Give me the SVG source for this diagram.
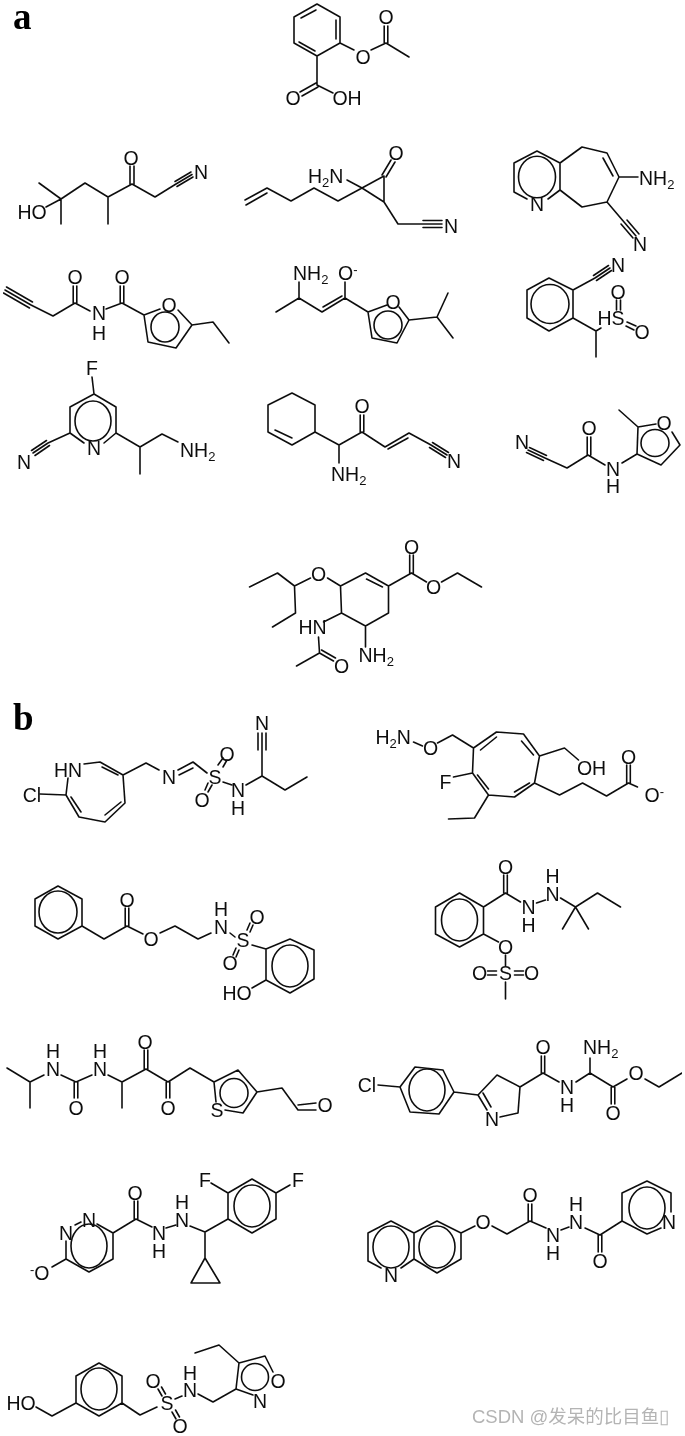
<svg xmlns="http://www.w3.org/2000/svg" width="685" height="1436" viewBox="0 0 685 1436">
<defs><filter id="soft" x="0" y="0" width="100%" height="100%"><feGaussianBlur stdDeviation="0.35"/></filter></defs>
<style>
.b{fill:none;stroke:#111;stroke-width:1.6;stroke-linecap:round;stroke-linejoin:round}
text{font-family:"Liberation Sans",Arial,sans-serif;font-size:19.5px;fill:#111;text-anchor:middle}
.st{text-anchor:start}
.lab{font-family:"Liberation Serif","Times New Roman",serif;font-size:37px;font-weight:bold;fill:#000;text-anchor:start}
.wm{font-family:"Liberation Sans","Noto Sans CJK SC",sans-serif;font-size:18.5px;fill:#b4b4b4;text-anchor:start}
.s{font-size:13px}
</style>
<rect width="685" height="1436" fill="#fff"/>
<g filter="url(#soft)">
<text class="lab" x="13" y="29">a</text>
<text class="lab" x="13" y="730">b</text>

<g id="a1">
<path class="b" d="M317 4L340 17V43L317 56L294 43V17ZM301 18L316 10M336 20V39M299 42L315 51M340 43L354 50M371 50L386 43L409 57M384.2 43V26M387.8 43V26M317 56V85M316 83L300 92M318 87L302 96M317 85L333 93"/>
<text x="363" y="64">O</text><text x="386" y="24">O</text><text x="293" y="105">O</text><text x="347" y="105">OH</text>
</g>
<g id="a2">
<path class="b" d="M46 207L61 199M39 183L61 199V224M61 199L85 183L108 197V224M108 197L132 184L155 197L176 184M176 184L192 174.500M175 181.500L191 172M177 186.500L193 177M130 184V166M134 184V166"/>
<text x="32" y="219">HO</text><text x="131" y="165">O</text><text x="201" y="179">N</text>
</g>
<g id="a3" transform="translate(-2 0)">
<path class="b" d="M247 200L269 188M248 205L269 193M269 188L293 201L316 188L340 201L364 188M364 188L386 176V202ZM349 180L364 188M384 175L393 160M388 177L397 162M386 202L400 224H425M425 224H444M425 220.500H444M425 227.500H444"/>
<text class="st" x="310" y="183">H<tspan class="s" dy="4">2</tspan><tspan dy="-4">N</tspan></text><text x="398" y="160">O</text><text x="453" y="233">N</text>
</g>
<g id="a4" transform="translate(-4 0)">
<path class="b" d="M564 190L552 199M531 199L518 192V163L541 151L564 163V190M564 163L586 147L611 153L623 177L611 202L586 207L564 190M607 158L617 176M623 177H642M611 202L628 222M628 222L640 236M631 220L643 234M625 224L637 238"/>
<ellipse class="b" cx="541" cy="177" rx="18.500" ry="20.800"/>
<text x="541" y="211">N</text><text class="st" x="643" y="185">NH<tspan class="s" dy="4">2</tspan></text><text x="644" y="251">N</text>
</g>
<g id="a5">
<path class="b" d="M5 290L31 305M6.500 287L32.500 302M3.500 293L29.500 308M31 305L53 316L75 303L90 311M106 309L122 303L144 315L148 342L176 348L192 325L213 322L229 343M144 315L160 309M178 310L192 325M73.200 303V286M76.800 303V286M120.200 303V286M123.800 303V286"/>
<ellipse class="b" cx="165" cy="327" rx="14" ry="15"/>
<text x="75" y="284">O</text><text x="122" y="284">O</text><text x="99" y="320">N</text><text x="99" y="340">H</text><text x="169" y="312">O</text>
</g>
<g id="a6">
<path class="b" d="M299 282V298M276 312L299 298L322 312L345 298M323 307L342 296M345 298V282M345 298L368 312L372 338L397 343L409 320L437 317M368 312L387 305M399 307L409 320M437 317L448 293M437 317L453 338"/>
<ellipse class="b" cx="388" cy="325" rx="14" ry="14"/>
<text class="st" x="293" y="280">NH<tspan class="s" dy="4">2</tspan></text><text class="st" x="338" y="280">O<tspan class="s" dy="-6">-</tspan></text><text x="393" y="309">O</text>
</g>
<g id="a7">
<path class="b" d="M549 278L573 290V318L549 331L527 318V290ZM573 290L595 278M595 278L610 268M593.500 275.500L608.500 265.500M596.500 280.500L611.500 270.500M573 318L596 331V357M596 331L601 328M616.500 310V300M620.500 310V300M627 322L636 326M626 326L634 330"/>
<ellipse class="b" cx="550" cy="304" rx="19" ry="19.500"/>
<text x="618" y="272">N</text><text x="611" y="325">HS</text><text x="618" y="299">O</text><text x="642" y="339">O</text>
</g>
<g id="a8">
<path class="b" d="M92 377L94 394L116 407V433L104 443M84 443L70 433V407L94 394M70 433L48 443M48 443L33 453M46.500 440.500L31.500 450.500M49.500 445.500L35 455.500M116 433L140 447V474M140 447L162 434L178 442"/>
<ellipse class="b" cx="93" cy="421" rx="18" ry="20"/>
<text x="92" y="375">F</text><text x="94" y="455">N</text><text x="24" y="469">N</text><text class="st" x="180" y="457">NH<tspan class="s" dy="4">2</tspan></text>
</g>
<g id="a9" transform="translate(-1 0)">
<path class="b" d="M293 393L316 405V432L293 445L269 432V405ZM276 430L293 438M316 432L340 445V463M340 445L363 432L386 447L410 433L432 445M389 449L409 438M432 445L448 455M433.500 442.500L449.500 452.500M430.500 447.500L446.500 457.500M361.200 432V415M364.800 432V415"/>
<text x="363" y="413">O</text><text class="st" x="332" y="481">NH<tspan class="s" dy="4">2</tspan></text><text x="455" y="468">N</text>
</g>
<g id="a10">
<path class="b" d="M528 450L545 458M529.500 447.500L546.500 455.500M526.500 452.500L543.500 460.500M545 458L567 468L588 455L605 465M622 463L637 454L638 427L656 424M672 432L680 445L661 465L637 454M638 427L619 410M587.200 455V437M590.800 455V437"/>
<ellipse class="b" cx="655" cy="443" rx="14" ry="13.500"/>
<text x="522" y="449">N</text><text x="589" y="435">O</text><text x="613" y="476">N</text><text x="613" y="493">H</text><text x="664" y="430">O</text>
</g>
<g id="a11" transform="translate(-1.500 0)">
<path class="b" d="M342 586L367 573L390 586V613L367 626L343 613ZM368 579L384 587M342 586L329 578M312 578L296 586L279 573L251 587M296 586L297 613L274 627M390 586L413 573L428 582M443 582L459 573L483 587M411.200 573V555M414.800 573V555M343 613L325 622M320 637L321 653L298 666M321 653L335 661M323 650L337 658M367 626V647"/>
<text x="320" y="581">O</text><text x="413" y="554">O</text><text x="435" y="594">O</text><text x="314" y="634">HN</text><text x="343" y="673">O</text><text class="st" x="360" y="662">NH<tspan class="s" dy="4">2</tspan></text>
</g>

<g id="b1">
<path class="b" d="M84 764L100 762L123 775L125 803L105 822L79 817L66 795L68 778M71 797L81 812M105 815L121 802M102 767L118 775M40 794L66 795M123 775L146 763L159 770M178 770L193 762L207 773M179 775L193 768M218 765L223 758M223 767L227 760M208 783L205 790M212 785L208 792M223 782L232 785M246 785L262 776L285 790L307 777M262 776V750M262 750V733M258 750V733M266 750V733"/>
<text x="68" y="777">HN</text><text x="32" y="802">Cl</text><text x="169" y="784">N</text><text x="215" y="784">S</text><text x="227" y="761">O</text><text x="202" y="807">O</text><text x="238" y="797">N</text><text x="238" y="815">H</text><text x="262" y="730">N</text>
</g>
<g id="b2" transform="translate(-1.500 0)">
<path class="b" d="M415 742L424 746M439 743L454 735L475 748L498 732L525 734L541 756L536 783L516 797L490 795L474 773L475 748M482 750L498 737M523 741L535 755M531 783L516 792M490 789L479 775M455 777L474 773M490 795L476 818L450 819M541 756L566 748L580 760M536 783L561 795L584 783L608 796L630 783L639 787M628.200 783V765M631.800 783V765"/>
<text class="st" x="377" y="744">H<tspan class="s" dy="4">2</tspan><tspan dy="-4">N</tspan></text><text x="432" y="755">O</text><text x="447" y="789">F</text><text x="593" y="775">OH</text><text x="630" y="764">O</text><text class="st" x="646" y="802">O<tspan class="s" dy="-6">-</tspan></text>
</g>
<g id="b3">
<path class="b" d="M58 886L82 899V926L58 939L35 926V899ZM82 926L104 939L127 926L143 934M125.200 926V908M128.800 926V908M160 933L175 926L198 939L211 933M230 933L235 937M250 932L253 925M247 930L250 923M236 948L233 955M239 950L236 957M252 945L266 949L290 939L314 950V979L290 993L266 980V949M252 988L266 980"/>
<ellipse class="b" cx="58" cy="912" rx="19" ry="21"/><ellipse class="b" cx="290" cy="966" rx="18" ry="21"/>
<text x="127" y="907">O</text><text x="151" y="946">O</text><text x="221" y="934">N</text><text x="221" y="916">H</text><text x="243" y="947">S</text><text x="257" y="924">O</text><text x="230" y="970">O</text><text x="237" y="1000">HO</text>
</g>
<g id="b4" transform="translate(-1.500 0)">
<path class="b" d="M461 893L485 907V934L461 947L437 934V907ZM485 907L507 893L522 902M505.200 893V875M508.800 893V875M538 903L547 900M562 898L577 907L564 929M577 907L590 929M577 907L599 893L622 907M485 934L500 942M507 955V966M507 982V999M489 971H498M489 975H498M516 971H525M516 975H525"/>
<ellipse class="b" cx="461" cy="920" rx="18" ry="21"/>
<text x="507" y="874">O</text><text x="530" y="914">N</text><text x="530" y="932">H</text><text x="554" y="901">N</text><text x="554" y="883">H</text><text x="507" y="954">O</text><text x="507" y="980">S</text><text x="481" y="980">O</text><text x="533" y="980">O</text>
</g>
<g id="b5">
<path class="b" d="M7 1068L30 1082V1108M30 1082L44 1075M61 1075L76 1082L92 1075M74.200 1082V1098M77.800 1082V1098M108 1075L122 1082V1108M122 1082L146 1069L168 1082L190 1068L214 1082L238 1070L257 1092L243 1113L225 1110M214 1082L216 1102M144.200 1069V1050M147.800 1069V1050M166.200 1082V1098M169.800 1082V1098M257 1092L282 1088L298 1110H316M298 1105L316 1103"/>
<ellipse class="b" cx="234" cy="1093" rx="14" ry="14.500"/>
<text x="53" y="1076">N</text><text x="53" y="1058">H</text><text x="76" y="1115">O</text><text x="100" y="1076">N</text><text x="100" y="1058">H</text><text x="145" y="1049">O</text><text x="168" y="1115">O</text><text x="217" y="1117">S</text><text x="325" y="1112">O</text>
</g>
<g id="b6">
<path class="b" d="M378 1085L400 1087L415 1067L443 1070L454 1092L439 1114L410 1112L400 1087M454 1092L478 1095L497 1075L520 1087L518 1113L500 1117M478 1095L487 1110M483 1093L491 1107M520 1087L543 1073L559 1082M541.300 1073V1056M544.700 1073V1056M576 1082L590 1073V1058M590 1073L613 1087L627 1079M611.200 1087V1104M614.800 1087V1104M645 1079L659 1087L682 1073"/>
<ellipse class="b" cx="427" cy="1090" rx="18" ry="21"/>
<text x="367" y="1092">Cl</text><text x="492" y="1126">N</text><text x="543" y="1054">O</text><text x="567" y="1094">N</text><text x="567" y="1112">H</text><text class="st" x="583" y="1054">NH<tspan class="s" dy="4">2</tspan></text><text x="613" y="1120">O</text><text x="636" y="1080">O</text>
</g>
<g id="b7">
<path class="b" d="M52 1267L66 1259V1241M75 1225L81 1222M66 1259L89 1272L113 1259V1233L97 1224M113 1233L136 1219L152 1227M134.200 1219V1201M137.800 1219V1201M166 1228L176 1225M190 1226L205 1232L228 1219V1193L252 1179L276 1193V1219L252 1233L228 1219M205 1232V1258L191 1283H220L205 1258M211 1183L228 1193M276 1193L290 1185"/>
<ellipse class="b" cx="89" cy="1246" rx="18" ry="22"/><ellipse class="b" cx="252" cy="1206" rx="18" ry="21"/>
<text class="st" x="30" y="1280"><tspan class="s" dy="-6">-</tspan><tspan dy="6">O</tspan></text><text x="66" y="1240">N</text><text x="89" y="1227">N</text><text x="135" y="1200">O</text><text x="159" y="1240">N</text><text x="159" y="1258">H</text><text x="182" y="1227">N</text><text x="182" y="1209">H</text><text x="205" y="1187">F</text><text x="298" y="1187">F</text>
</g>
<g id="b8" transform="translate(-1 0)">
<path class="b" d="M392 1221L415 1233V1259L402 1268M382 1268L369 1261V1233L392 1221M415 1233L438 1221L462 1233V1259L438 1273L415 1259M462 1233L476 1226M493 1226L508 1234L531 1221L547 1228M529.200 1221V1204M532.800 1221V1204M562 1230L570 1227M586 1228L601 1235L623 1221V1193L648 1181L672 1193V1212M662 1228L648 1234L623 1221M599.200 1235V1252M602.800 1235V1252"/>
<ellipse class="b" cx="392" cy="1247" rx="18" ry="21"/><ellipse class="b" cx="438" cy="1247" rx="18" ry="21"/><ellipse class="b" cx="648" cy="1208" rx="18" ry="21"/>
<text x="392" y="1282">N</text><text x="484" y="1229">O</text><text x="531" y="1202">O</text><text x="554" y="1242">N</text><text x="554" y="1260">H</text><text x="577" y="1229">N</text><text x="577" y="1211">H</text><text x="601" y="1268">O</text><text x="670" y="1229">N</text>
</g>
<g id="b9">
<path class="b" d="M36 1407L52 1416L76 1403V1376L99 1363L122 1376V1403L99 1416L76 1403M122 1403L140 1415L157 1407M175 1399L182 1396M198 1394L213 1402L236 1389L239 1363L265 1356L273 1372M236 1389L253 1395M239 1363L219 1345L195 1353M158 1389L162 1396M161.500 1387L165.500 1394M172 1412L176 1419M175.500 1410L179.500 1417"/>
<ellipse class="b" cx="99" cy="1389" rx="18" ry="21"/><ellipse class="b" cx="255" cy="1377" rx="13.500" ry="13.500"/>
<text x="21" y="1410">HO</text><text x="167" y="1410">S</text><text x="153" y="1388">O</text><text x="180" y="1433">O</text><text x="190" y="1397">N</text><text x="190" y="1380">H</text><text x="278" y="1388">O</text><text x="260" y="1408">N</text>
</g>
<text class="wm" x="472" y="1423">CSDN @发呆的比目鱼▯</text>
</g>
</svg>
